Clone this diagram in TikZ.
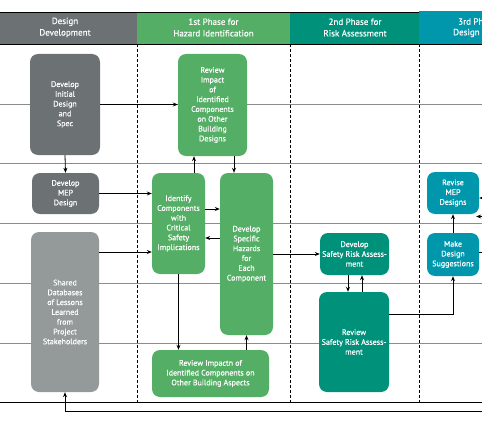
\documentclass[tikz,border=0pt]{standalone}
\usepackage{fontspec}
\setmainfont{PT Sans}[FakeBold=0.5]
\usetikzlibrary{arrows.meta}
\definecolor{hgray}{RGB}{108,114,116}
\definecolor{dgray}{RGB}{108,114,116}
\definecolor{lgray}{RGB}{148,154,153}
\definecolor{cgreen}{RGB}{85,174,101}
\definecolor{cteal}{RGB}{0,145,123}
\definecolor{cblue}{RGB}{0,150,172}
\definecolor{gline}{RGB}{140,140,140}
\tikzset{
  htext/.style={text=white, align=center, font=\fontsize{9}{11.5}\selectfont, inner sep=0pt},
  box/.style={rounded corners=8pt, text=white, align=center, inner sep=1pt,
    font=\fontsize{8}{9.8}\selectfont},
  grid/.style={draw=gline, line width=0.6pt},
  lane/.style={draw=black, line width=0.6pt, dash pattern=on 3pt off 2pt},
  rule/.style={draw=black, line width=0.9pt},
  arr/.style={draw=black, line width=0.8pt, -{Stealth[length=5pt,width=4pt]}},
  stub/.style={draw=black, line width=0.6pt}
}
\begin{document}
\begin{tikzpicture}[x=1pt,y=-1pt]
\useasboundingbox (0,0) rectangle (482,428);
\clip (0,0) rectangle (482,428);
\fill[white] (0,0) rectangle (482,428);
% header
\fill[hgray] (0,12) rectangle (137,44);
\fill[cgreen] (137,12) rectangle (290,44);
\fill[cteal] (290,12) rectangle (419,44);
\fill[cblue] (419,11.3) rectangle (490,44);
\draw[rule] (0,12) -- (419,12);
\draw[rule] (0,44.5) -- (482,44.5);
\node[htext] (h1) at (65,27.5) {Design\\Development};
\node[htext] (h2) at (213.5,27.5) {1st Phase for\\Hazard Identification};
\node[htext] (h3) at (355,27.5) {2nd Phase for\\Risk Assessment};
\node[htext, anchor=west] (h4a) at (458,21.5) {3rd Phase for};
\node[htext, anchor=west] (h4b) at (453,33) {Design};
% grid lines
\foreach \yy in {104,163,223,283,343} \draw[grid] (0,\yy) -- (482,\yy);
% lanes
\foreach \xx in {137,290,419} \draw[lane] (\xx,44.5) -- (\xx,402);
\draw[rule] (0,402) -- (482,402);
% boxes
\node[box, fill=dgray, minimum width=70pt, minimum height=101pt] (A) at (65,104.5) {Develop\\Initial\\Design\\and\\Spec};
\node[box, fill=dgray, minimum width=67pt, minimum height=41pt] (B) at (65.5,193.5) {Develop\\MEP\\Design};
\node[box, fill=lgray, minimum width=68pt, minimum height=160pt] (C) at (65,312) {Shared\\Databases\\of Lessons\\Learned\\from\\Project\\Stakeholders};
\node[box, fill=cgreen, minimum width=69pt, minimum height=102pt] (D) at (212.5,105) {Review\\Impact\\of\\Identified\\Components\\on Other\\Building\\Designs};
\node[box, fill=cgreen, minimum width=53pt, minimum height=101pt] (E) at (178.5,223.5) {Identify\\Components\\with\\Critical\\Safety\\Implications};
\node[box, fill=cgreen, minimum width=53pt, minimum height=162pt] (F) at (246.5,254) {Develop\\Specific\\Hazards\\for\\Each\\Component};
\node[box, fill=cgreen, minimum width=117pt, minimum height=47pt] (G) at (210.5,373.5) {Review Impactn of\\Identified Components on\\Other Building Aspects};
\node[box, fill=cteal, minimum width=69pt, minimum height=42pt] (H) at (354.5,254) {Develop\\Safety Risk Assess-\\ment};
\node[box, fill=cteal, minimum width=70pt, minimum height=100pt] (I) at (354,342) {Review\\Safety Risk Assess-\\ment};
\node[box, fill=cblue, minimum width=52pt, minimum height=42pt] (J) at (453,193) {Revise\\MEP\\Designs};
\node[box, fill=cblue, minimum width=52pt, minimum height=43pt] (K) at (453,254.5) {Make\\Design\\Suggestions};
% helper coordinates
\coordinate (c1) at ([yshift=60pt]C.east);
\coordinate (e1) at ([xshift=15.5pt]E.north);
\coordinate (d1) at ([xshift=21.5pt]D.south);
\coordinate (e2) at ([yshift=14.5pt]E.east);
\coordinate (f2) at ([yshift=16pt]F.west);
\coordinate (h1b) at ([xshift=-6.5pt]H.south);
\coordinate (i1) at ([xshift=8pt]I.north);
\coordinate (i2) at ([yshift=28pt]I.east);
\coordinate (fb) at (490,411);
\coordinate (s1) at (490,198);
\coordinate (s2) at (490,216.5);
\coordinate (s3) at (490,252);
% arrows
\draw[arr] (A.east) -- (A.east -| D.west);
\draw[arr] (A.south) -- (B.north);
\draw[arr] (B.east) -- (B.east -| E.west);
\draw[arr] (c1) -- (c1 -| E.west);
\draw[arr] (e1) -- (e1 |- D.south);
\draw[arr] (d1) -- (d1 |- F.north);
\draw[arr] (e2) -- (e2 -| F.west);
\draw[arr] (f2) -- (f2 -| E.east);
\draw[arr] (E.south) -- (E.south |- G.north);
\draw[arr] (F.south |- G.north) -- (F.south);
\draw[arr] (F.east) -- (F.east -| H.west);
\draw[arr] (h1b) -- (h1b |- I.north);
\draw[arr] (i1) -- (i1 |- H.south);
\draw[arr] (i2) -| (K.south);
\draw[arr] (K.north) -- (J.south);
\draw[arr] (fb) -| (C.south);
\draw[arr] (s1) -- (s1 -| J.east);
\draw[arr] (s2) -- ([xshift=-3pt]s2 -| J.east);
\draw[stub] (s3) -- (s3 -| K.east);
\end{tikzpicture}
\end{document}
